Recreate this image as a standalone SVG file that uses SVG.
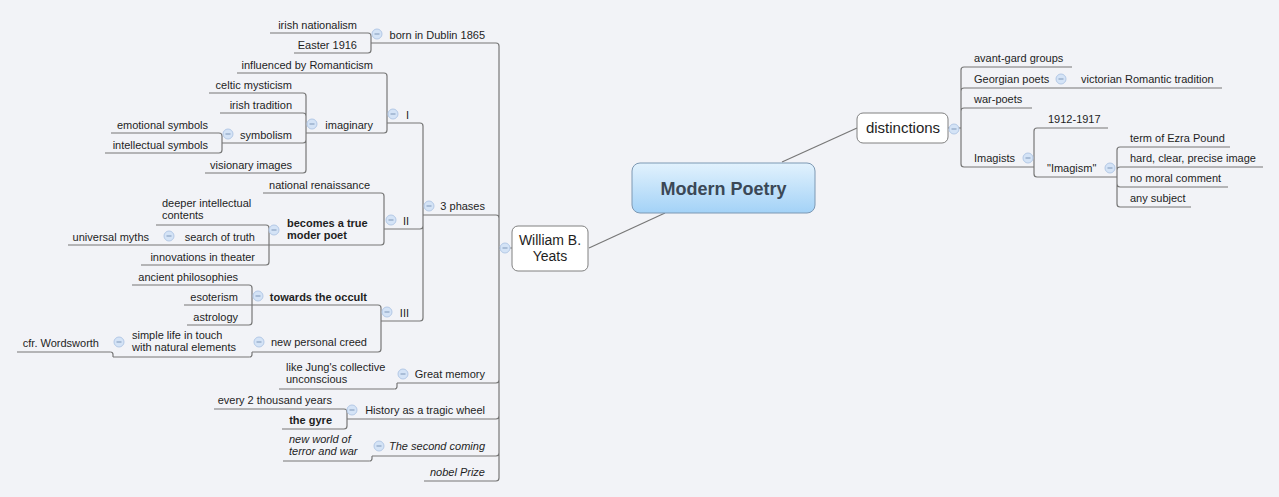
<svg xmlns="http://www.w3.org/2000/svg" xmlns:xlink="http://www.w3.org/1999/xlink" width="1279" height="497" viewBox="0 0 1279 497">
<defs>
<linearGradient id="mp" x1="0" y1="0" x2="0" y2="1">
<stop offset="0" stop-color="#e2f2fd"/>
<stop offset="1" stop-color="#a3d2f7"/>
</linearGradient>
<g id="tog"><circle r="5" fill="#d4e3f6" stroke="#b4c9e6" stroke-width="1"/><path d="M-2.5 0H2.5" stroke="#7f97b8" stroke-width="1"/></g>
<style>
.t{font-family:"Liberation Sans",Arial,sans-serif;font-size:11px;fill:#1e1e1e}
.e{text-anchor:end}
.b{font-weight:bold}
.i{font-style:italic}
.ul{stroke:#777;stroke-width:1.2;fill:none}
.c{stroke:#777;stroke-width:1.2;fill:none}
.box{fill:#fff;stroke:#808080;stroke-width:1}
</style>
</defs>
<rect width="1279" height="497" fill="#f2f3f7"/>

<g id="connectors">
<path class="c" d="M368 33Q371 33 371 36L371 43M368 53Q371 53 371 50L371 43"/>
<path class="c" d="M384 73Q387 73 387 76L387 123M384 133Q387 133 387 130L387 123"/>
<path class="c" d="M303 93Q306 93 306 96L306 133M303 113Q306 113 306 116L306 133M303 143Q306 143 306 140L306 133M303 173Q306 173 306 170L306 133"/>
<path class="c" d="M219 133Q222 133 222 136L222 143M219 153Q222 153 222 150L222 143"/>
<path class="c" d="M420 123Q423 123 423 126L423 215M420 229Q423 229 423 226L423 215M420 321Q423 321 423 318L423 215"/>
<path class="c" d="M381 193Q384 193 384 196L384 229M381 245Q384 245 384 242L384 229"/>
<path class="c" d="M266 225Q269 225 269 228L269 245M266 265Q269 265 269 262L269 245"/>
<path class="c" d="M378 305Q381 305 381 308L381 321M378 352Q381 352 381 349L381 321"/>
<path class="c" d="M249 285Q252 285 252 288L252 305M249 325Q252 325 252 322L252 305"/>
<path class="c" d="M249.5 357Q252 357 252 354.5L252 352"/>
<path class="c" d="M110.5 352Q113 352 113 354.5L113 357"/>
<path class="c" d="M496 43Q499 43 499 46L499 248M496 215Q499 215 499 218L499 248M496 383Q499 383 499 380L499 248M496 419Q499 419 499 416L499 248M496 456Q499 456 499 453L499 248M496 481Q499 481 499 478L499 248M499 248L512 248"/>
<path class="c" d="M394.5 389Q397 389 397 386.5L397 383"/>
<path class="c" d="M344 409Q347 409 347 412L347 419M344 429Q347 429 347 426L347 419"/>
<path class="c" d="M369.5 461Q372 461 372 458.5L372 456"/>
<path class="c" d="M589 248L665 213"/>
<path class="c" d="M782 162L857 128"/>
<path class="c" d="M948 128L961 128"/>
<path class="c" d="M964 67Q961 67 961 70L961 128M964 88Q961 88 961 91L961 128M964 108Q961 108 961 111L961 128M964 167Q961 167 961 164L961 128"/>
<path class="c" d="M1037 128Q1034 128 1034 131L1034 167M1037 177Q1034 177 1034 174L1034 167"/>
<path class="c" d="M1120 147Q1117 147 1117 150L1117 177M1120 167Q1117 167 1117 170L1117 177M1120 187Q1117 187 1117 184L1117 177M1120 207Q1117 207 1117 204L1117 177"/>
</g>

<g id="root">
<rect x="632" y="163" width="183" height="50" rx="8" fill="url(#mp)" stroke="#7d98b3" stroke-width="1"/>
<text x="723.5" y="194.5" text-anchor="middle" style="font-family:'Liberation Sans',Arial,sans-serif;font-size:18px;font-weight:bold;fill:#3b4856">Modern Poetry</text>
</g>

<g id="yeats">
<rect class="box" x="512" y="226" width="76" height="45" rx="6"/>
<text class="t" x="550" y="245" text-anchor="middle" style="font-size:14px">William B.</text>
<text class="t" x="550" y="261" text-anchor="middle" style="font-size:14px">Yeats</text>
<use xlink:href="#tog" x="505" y="248"/>
</g>

<g id="n1"><path class="ul" d="M270 33H368"/><text class="t e" x="357" y="28.5">irish nationalism</text></g>
<g id="n2"><path class="ul" d="M294 53H368"/><text class="t e" x="357" y="48.5">Easter 1916</text></g>
<g id="n3"><path class="ul" d="M371 43H496"/><text class="t e" x="485" y="38.5">born in Dublin 1865</text><use xlink:href="#tog" x="377" y="34"/></g>
<g id="n4"><path class="ul" d="M237 73H384"/><text class="t e" x="373" y="68.5">influenced by Romanticism</text></g>
<g id="n5"><path class="ul" d="M209 93H303"/><text class="t e" x="292" y="88.5">celtic mysticism</text></g>
<g id="n6"><path class="ul" d="M220 113H303"/><text class="t e" x="292" y="108.5">irish tradition</text></g>
<g id="n7"><path class="ul" d="M111 133H219"/><text class="t e" x="208" y="128.5">emotional symbols</text></g>
<g id="n8"><path class="ul" d="M105 153H219"/><text class="t e" x="208" y="148.5">intellectual symbols</text></g>
<g id="n9"><path class="ul" d="M222 143H303"/><text class="t e" x="292" y="138.5">symbolism</text><use xlink:href="#tog" x="228" y="134"/></g>
<g id="n10"><path class="ul" d="M205 173H303"/><text class="t e" x="292" y="168.5">visionary images</text></g>
<g id="n11"><path class="ul" d="M306 133H384"/><text class="t e" x="373" y="128.5">imaginary</text><use xlink:href="#tog" x="312" y="124"/></g>
<g id="n12"><path class="ul" d="M387 123H420"/><text class="t e" x="409" y="118.5">I</text><use xlink:href="#tog" x="393" y="114"/></g>
<g id="n13"><path class="ul" d="M263 193H381"/><text class="t e" x="370" y="188.5">national renaissance</text></g>
<g id="n14"><path class="ul" d="M156 225H266"/><text class="t" x="162" y="207">deeper intellectual</text><text class="t" x="162" y="219">contents</text></g>
<g id="n15"><path class="ul" d="M68 245H163"/><text class="t e" x="149" y="240.5">universal myths</text></g>
<g id="n16"><path class="ul" d="M163 245H269"/><text class="t e" x="255" y="240.5">search of truth</text><use xlink:href="#tog" x="169" y="236"/></g>
<g id="n17"><path class="ul" d="M141 265H266"/><text class="t e" x="255" y="260.5">innovations in theater</text></g>
<g id="n18"><path class="ul" d="M269 245H381"/><text class="t b" x="287" y="227">becomes a true</text><text class="t b" x="287" y="239">moder poet</text><use xlink:href="#tog" x="274" y="230"/></g>
<g id="n19"><path class="ul" d="M384 229H420"/><text class="t e" x="409" y="224.5">II</text><use xlink:href="#tog" x="391" y="220"/></g>
<g id="n20"><path class="ul" d="M132 285H249"/><text class="t e" x="238" y="280.5">ancient philosophies</text></g>
<g id="n21"><path class="ul" d="M184 305H252"/><text class="t e" x="238" y="300.5">esoterism</text></g>
<g id="n22"><path class="ul" d="M187 325H249"/><text class="t e" x="238" y="320.5">astrology</text></g>
<g id="n23"><path class="ul" d="M252 305H378"/><text class="t b e" x="367" y="300.5">towards the occult</text><use xlink:href="#tog" x="258" y="296"/></g>
<g id="n24"><path class="ul" d="M17 352H110.5"/><text class="t e" x="99" y="347">cfr. Wordsworth</text></g>
<g id="n25"><path class="ul" d="M113 357H249.5"/><text class="t" x="132" y="339">simple life in touch</text><text class="t" x="132" y="351">with natural elements</text><use xlink:href="#tog" x="119" y="342"/></g>
<g id="n26"><path class="ul" d="M252 352H378"/><text class="t e" x="367" y="346">new personal creed</text><use xlink:href="#tog" x="259" y="342"/></g>
<g id="n27"><path class="ul" d="M381 321H420"/><text class="t e" x="409" y="316.5">III</text><use xlink:href="#tog" x="387" y="312"/></g>
<g id="n28"><path class="ul" d="M423 215H496"/><text class="t e" x="485" y="209.5">3 phases</text><use xlink:href="#tog" x="429" y="206"/></g>
<g id="n29"><path class="ul" d="M279 389H394.5"/><text class="t" x="286" y="371">like Jung's collective</text><text class="t" x="286" y="383">unconscious</text></g>
<g id="n30"><path class="ul" d="M397 383H496"/><text class="t e" x="485" y="377.5">Great memory</text><use xlink:href="#tog" x="403" y="374"/></g>
<g id="n31"><path class="ul" d="M214 409H344"/><text class="t e" x="332" y="403.5">every 2 thousand years</text></g>
<g id="n32"><path class="ul" d="M282 429H344"/><text class="t b e" x="332" y="423.5">the gyre</text></g>
<g id="n33"><path class="ul" d="M347 419H496"/><text class="t e" x="485" y="413.5">History as a tragic wheel</text><use xlink:href="#tog" x="352" y="410"/></g>
<g id="n34"><path class="ul" d="M283 461H369.5"/><text class="t i" x="289" y="443">new world of</text><text class="t i" x="289" y="455">terror and war</text></g>
<g id="n35"><path class="ul" d="M372 456H496"/><text class="t i e" x="485" y="450">The second coming</text><use xlink:href="#tog" x="379" y="446"/></g>
<g id="n36"><path class="ul" d="M424 481H496"/><text class="t i e" x="485" y="476">nobel Prize</text></g>

<g id="distinctions">
<rect class="box" x="857" y="113" width="91" height="30" rx="6"/>
<text class="t" x="903" y="133" text-anchor="middle" style="font-size:15px">distinctions</text>
<use xlink:href="#tog" x="954" y="129"/>
</g>
<g id="r1"><path class="ul" d="M964 67H1072"/><text class="t" x="974" y="62">avant-gard groups</text></g>
<g id="r2"><path class="ul" d="M964 88H1067"/><text class="t" x="974" y="82.5">Georgian poets</text><use xlink:href="#tog" x="1061" y="79"/></g>
<g id="r3"><path class="ul" d="M1067 88H1222"/><text class="t" x="1081" y="82.5">victorian Romantic tradition</text></g>
<g id="r4"><path class="ul" d="M964 108H1032"/><text class="t" x="974" y="102.5">war-poets</text></g>
<g id="r5"><path class="ul" d="M964 167H1034"/><text class="t" x="974" y="162">Imagists</text><use xlink:href="#tog" x="1028" y="158"/></g>
<g id="r6"><path class="ul" d="M1037 128H1108"/><text class="t" x="1048" y="122.5">1912-1917</text></g>
<g id="r7"><path class="ul" d="M1037 177H1117"/><text class="t" x="1047" y="172">"Imagism"</text><use xlink:href="#tog" x="1110" y="168"/></g>
<g id="r8"><path class="ul" d="M1120 147H1230"/><text class="t" x="1130" y="142">term of Ezra Pound</text></g>
<g id="r9"><path class="ul" d="M1120 167H1263"/><text class="t" x="1130" y="162">hard, clear, precise image</text></g>
<g id="r10"><path class="ul" d="M1120 187H1228"/><text class="t" x="1130" y="182">no moral comment</text></g>
<g id="r11"><path class="ul" d="M1120 207H1191"/><text class="t" x="1130" y="201.5">any subject</text></g>
</svg>
